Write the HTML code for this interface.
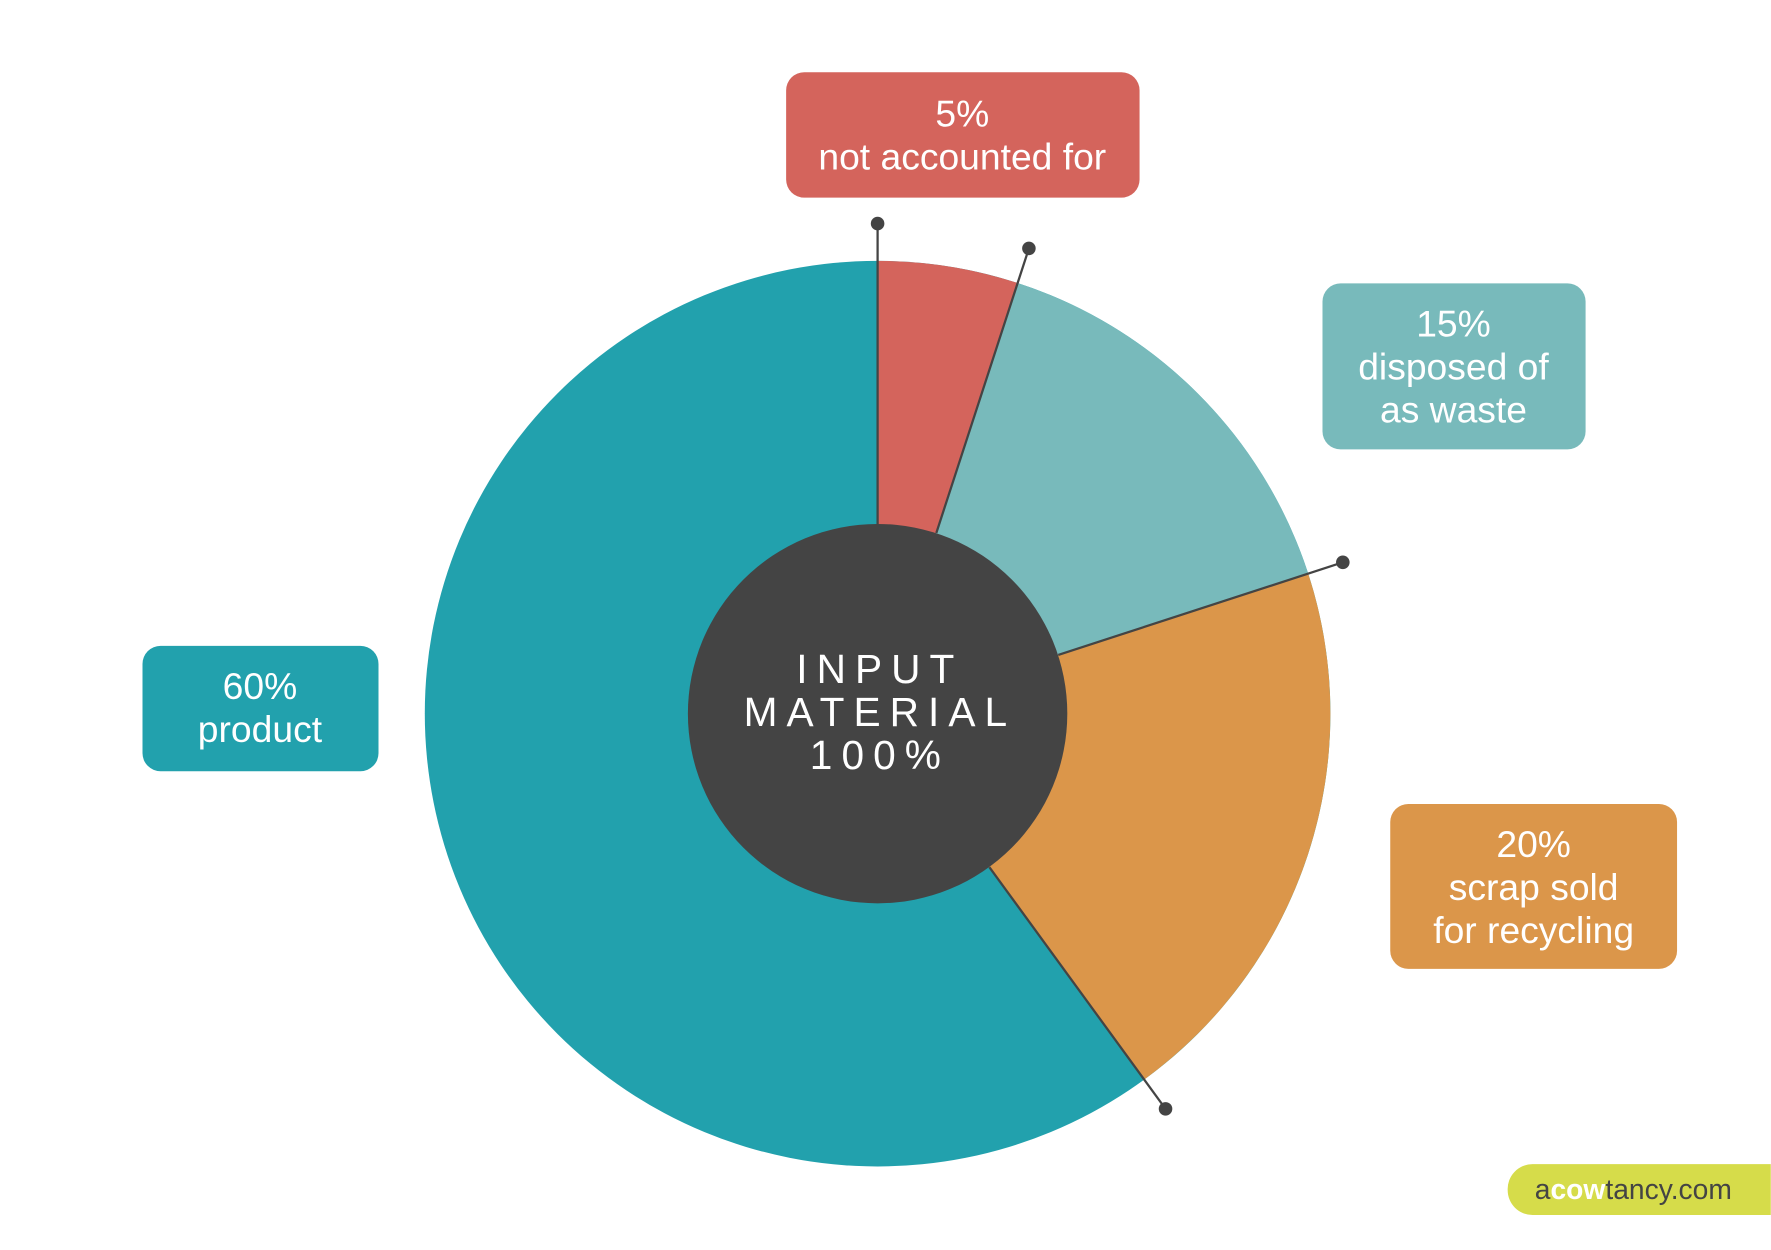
<!DOCTYPE html>
<html><head><meta charset="utf-8"><style>
html,body{margin:0;padding:0;background:#fff;}
svg{display:block;}
text{font-family:"Liberation Sans",sans-serif;}
</style></head><body>
<svg width="1771" height="1250" viewBox="0 0 1568 1107" xmlns="http://www.w3.org/2000/svg">
<rect width="1568" height="1107" fill="#fff"/>
<circle cx="777" cy="632" r="401" fill="#22a1ad"/>
<path d="M777 632 L777 231 A401 401 0 0 1 900.9 250.6 Z" fill="#d4645c"/>
<path d="M777 632 L900.9 250.6 A401 401 0 0 1 1158.4 508.1 Z" fill="#78babb"/>
<path d="M777 632 L1158.4 508.1 A401 401 0 0 1 1012.7 956.4 Z" fill="#db964a"/>
<circle cx="777" cy="632" r="168" fill="#444"/>
<g stroke="#444" stroke-width="2">
<line x1="777" y1="464" x2="777" y2="198"/>
<line x1="829" y1="472" x2="911" y2="220"/>
<line x1="937" y1="580" x2="1189" y2="498"/>
<line x1="876" y1="768" x2="1032" y2="982"/>
</g>
<g fill="#444">
<circle cx="777" cy="198" r="6"/><circle cx="911" cy="220" r="6"/>
<circle cx="1189" cy="498" r="6"/><circle cx="1032" cy="982" r="6"/>
</g>
<g fill="#fff" font-size="36" text-anchor="middle" letter-spacing="8">
<text x="779" y="605">INPUT</text>
<text x="779" y="643">MATERIAL</text>
<text x="779" y="681">100%</text>
</g>
<rect x="696" y="64" width="313" height="111" rx="16" fill="#d4645c"/>
<rect x="1171" y="251" width="233" height="147" rx="16" fill="#78babb"/>
<rect x="1231" y="712" width="254" height="146" rx="16" fill="#db964a"/>
<rect x="126" y="572" width="209" height="111" rx="16" fill="#22a1ad"/>
<g fill="#fff" font-size="33" text-anchor="middle">
<text x="852" y="112">5%</text><text x="852" y="150">not accounted for</text>
<text x="1287" y="298">15%</text><text x="1287" y="336">disposed of</text><text x="1287" y="374">as waste</text>
<text x="1358" y="759">20%</text><text x="1358" y="797">scrap sold</text><text x="1358" y="835">for recycling</text>
<text x="230" y="619">60%</text><text x="230" y="657">product</text>
</g>
<path d="M1357 1031 H1568 V1076 H1357 A22 22 0 0 1 1335 1054 A22 22 0 0 1 1357 1031 Z" fill="#d6dc4a"/>
<text x="1359" y="1062" font-size="25" fill="#444">a<tspan fill="#fff" font-weight="bold">cow</tspan>tancy.com</text>
</svg>
</body></html>
